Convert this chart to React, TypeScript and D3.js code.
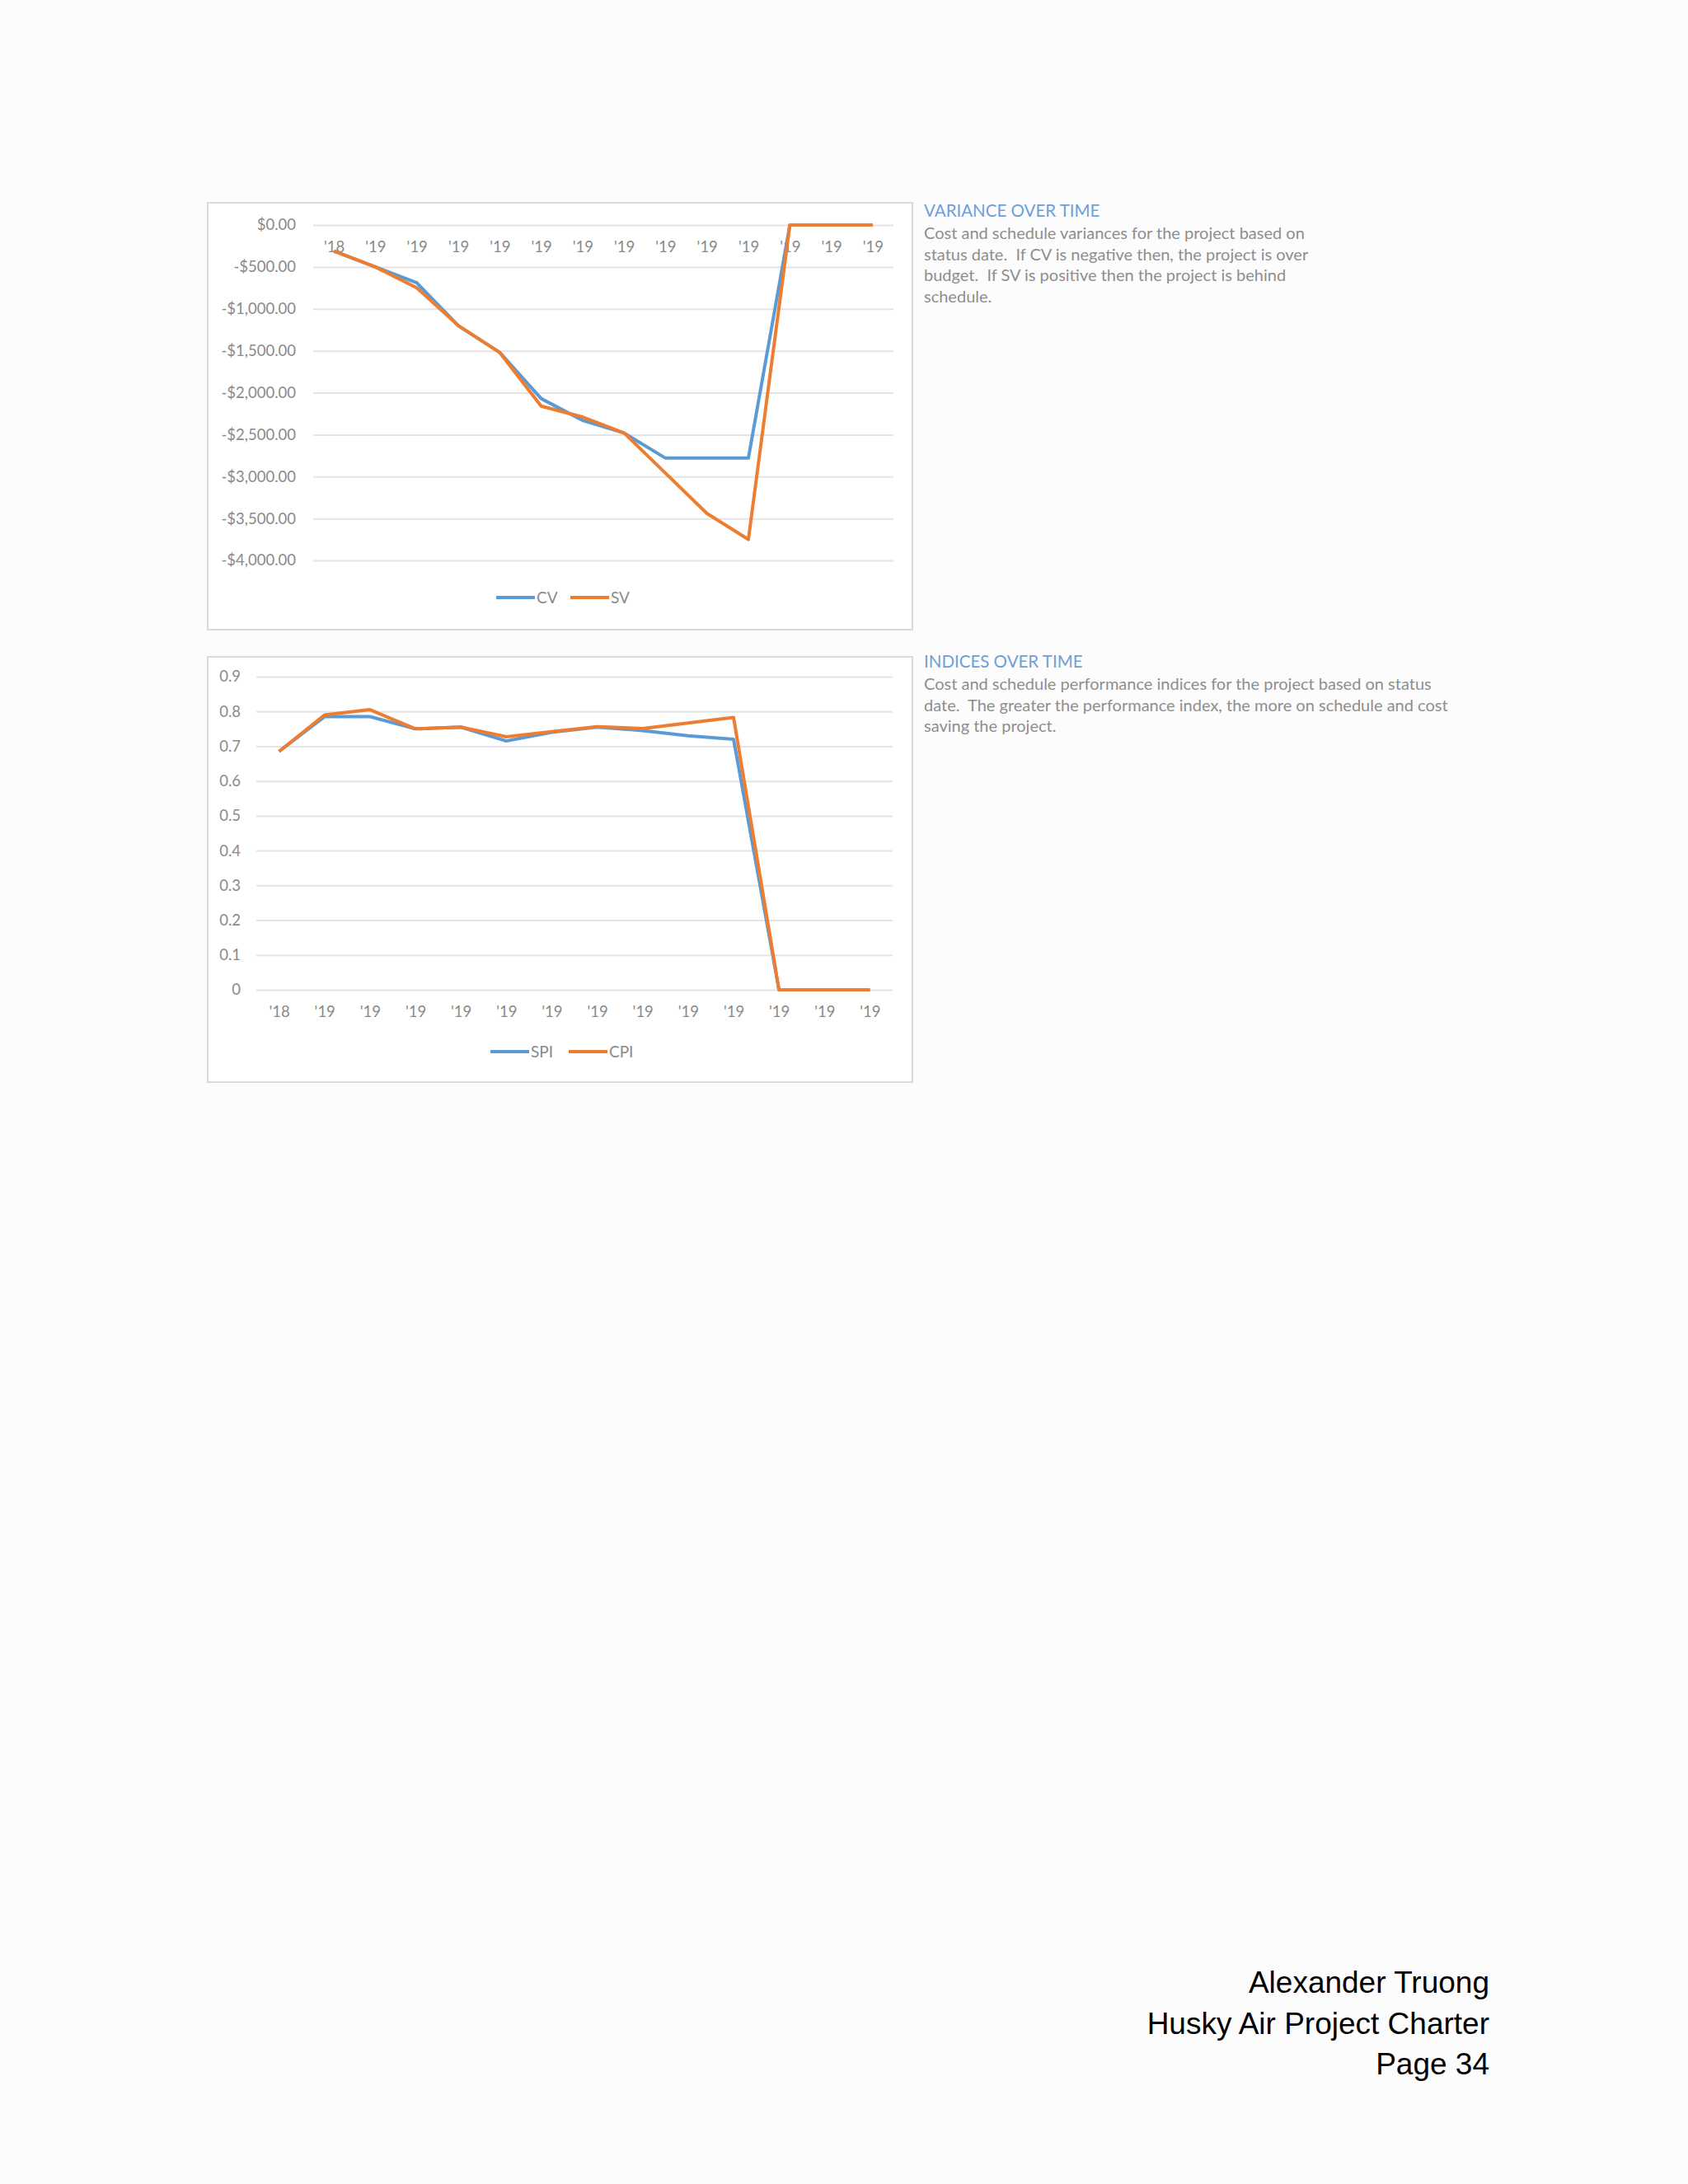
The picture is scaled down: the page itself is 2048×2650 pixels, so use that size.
import React, { useEffect, useRef } from 'react';
import * as d3 from 'd3';

// status dates on the category axis
const categories = ["'18", "'19", "'19", "'19", "'19", "'19", "'19", "'19", "'19", "'19", "'19", "'19", "'19", "'19"];

// variance over time ($)
const cvValues = [-310, -500, -690, -1200, -1520, -2070, -2330, -2480, -2780, -2780, -2780, 0, 0, 0];
const svValues = [-310, -500, -750, -1200, -1520, -2160, -2290, -2480, -2960, -3440, -3750, 0, 0, 0];
const varianceTicks = [0, -500, -1000, -1500, -2000, -2500, -3000, -3500, -4000];

// indices over time
const spiValues = [0.685, 0.785, 0.785, 0.75, 0.755, 0.715, 0.74, 0.755, 0.745, 0.73, 0.72, 0, 0, 0];
const cpiValues = [0.685, 0.79, 0.805, 0.75, 0.755, 0.727, 0.742, 0.756, 0.751, 0.767, 0.783, 0, 0, 0];
const indexTicks = [0, 0.1, 0.2, 0.3, 0.4, 0.5, 0.6, 0.7, 0.8, 0.9];

const varianceTitle = 'VARIANCE OVER TIME';
const varianceText = [
  'Cost and schedule variances for the project based on',
  'status date.  If CV is negative then, the project is over',
  'budget.  If SV is positive then the project is behind',
  'schedule.',
];
const indexTitle = 'INDICES OVER TIME';
const indexText = [
  'Cost and schedule performance indices for the project based on status',
  'date.  The greater the performance index, the more on schedule and cost',
  'saving the project.',
];
const footer = ['Alexander Truong', 'Husky Air Project Charter', 'Page 34'];

const BLUE = '#5b9bd5';
const ORANGE = '#ed7d31';
const GRID = '#e4e4e4';
const LABEL = '#8a8a8a';
const FONT = 'Lato, "Open Sans", sans-serif';

const money = d3.formatLocale({
  decimal: '.',
  thousands: ',',
  grouping: [3],
  currency: ['$', ''],
  minus: '-',
}).format('$,.2f');

function drawChart(svg, opts) {
  const { box, x0, x1, yTop, yBottom, domain, ticks, fmt, series, legendY, legend, labelGap } = opts;
  const g = svg.append('g');

  g.append('rect')
    .attr('x', box[0]).attr('y', box[1])
    .attr('width', box[2] - box[0]).attr('height', box[3] - box[1])
    .attr('fill', '#ffffff')
    .attr('stroke', '#dadada')
    .attr('stroke-width', 2);

  const x = d3.scalePoint()
    .domain(d3.range(categories.length))
    .range([x0, x1])
    .padding(0.5);

  const y = d3.scaleLinear().domain(domain).range([yBottom, yTop]);

  // gridlines + value labels
  const yAxis = g.append('g')
    .attr('transform', `translate(${x0},0)`)
    .call(d3.axisLeft(y).tickValues(ticks).tickSize(-(x1 - x0)).tickPadding(labelGap).tickFormat(fmt));
  yAxis.select('.domain').remove();
  yAxis.selectAll('line').attr('stroke', GRID).attr('stroke-width', 2);
  yAxis.selectAll('text')
    .attr('fill', LABEL)
    .style('font-family', FONT)
    .style('font-size', '18.5px');

  // category labels sit under the zero line
  const xAxis = g.append('g')
    .attr('transform', `translate(0,${y(0)})`)
    .call(d3.axisBottom(x).tickSize(0).tickPadding(20).tickFormat(i => categories[i]));
  xAxis.select('.domain').remove();
  xAxis.selectAll('text')
    .attr('fill', LABEL)
    .style('font-family', FONT)
    .style('font-size', '18.5px');

  const line = d3.line()
    .x((d, i) => x(i))
    .y(d => y(d));

  series.forEach(s => {
    g.append('path')
      .datum(s.values)
      .attr('fill', 'none')
      .attr('stroke', s.color)
      .attr('stroke-width', 4)
      .attr('stroke-linejoin', 'round')
      .attr('d', line);
  });

  // legend
  legend.forEach((l, i) => {
    const s = series[i];
    g.append('line')
      .attr('x1', l.x).attr('x2', l.x + 47)
      .attr('y1', legendY).attr('y2', legendY)
      .attr('stroke', s.color)
      .attr('stroke-width', 4);
    g.append('text')
      .attr('x', l.x + 49)
      .attr('y', legendY)
      .attr('dy', '0.35em')
      .attr('fill', LABEL)
      .style('font-family', FONT)
      .style('font-size', '19px')
      .text(s.name);
  });
}

function drawNote(svg, x, y, title, lines) {
  svg.append('text')
    .attr('x', x).attr('y', y)
    .attr('dy', '0.35em')
    .attr('fill', '#6f9fd6')
    .style('font-family', FONT)
    .style('font-size', '20.5px')
    .text(title);
  svg.selectAll(null)
    .data(lines)
    .join('text')
    .attr('x', x)
    .attr('y', (d, i) => y + 27 + i * 25.5)
    .attr('dy', '0.35em')
    .attr('fill', '#8e8e8e')
    .style('font-family', FONT)
    .style('font-size', '20px')
    .style('white-space', 'pre')
    .text(d => d);
}

export default function App() {
  const ref = useRef(null);

  useEffect(() => {
    const svg = d3.select(ref.current);
    svg.selectAll('*').remove();

    svg.append('rect')
      .attr('width', 2048).attr('height', 2650)
      .attr('fill', '#fdfcfd');

    drawChart(svg, {
      box: [252, 246, 1107, 764],
      x0: 380, x1: 1084,
      yTop: 273, yBottom: 680,
      domain: [-4000, 0],
      ticks: varianceTicks,
      fmt: money,
      labelGap: 21,
      series: [
        { name: 'CV', values: cvValues, color: BLUE },
        { name: 'SV', values: svValues, color: ORANGE },
      ],
      legendY: 725,
      legend: [{ x: 602 }, { x: 692 }],
    });

    drawChart(svg, {
      box: [252, 797, 1107, 1313],
      x0: 311, x1: 1083,
      yTop: 821, yBottom: 1201,
      domain: [0, 0.9],
      ticks: indexTicks,
      fmt: d3.format('.1~f'),
      labelGap: 19,
      series: [
        { name: 'SPI', values: spiValues, color: BLUE },
        { name: 'CPI', values: cpiValues, color: ORANGE },
      ],
      legendY: 1276,
      legend: [{ x: 595 }, { x: 690 }],
    });

    drawNote(svg, 1121, 256, varianceTitle, varianceText);
    drawNote(svg, 1121, 803, indexTitle, indexText);

    svg.selectAll('.footer')
      .data(footer)
      .join('text')
      .attr('class', 'footer')
      .attr('x', 1807)
      .attr('y', (d, i) => 2418 + i * 49.5)
      .attr('text-anchor', 'end')
      .attr('fill', '#000000')
      .style('font-family', '"Liberation Sans", Arial, sans-serif')
      .style('font-size', '37px')
      .style('white-space', 'pre')
      .text(d => d);
  }, []);

  return (
    <svg
      ref={ref}
      width={2048}
      height={2650}
      style={{ position: 'absolute', left: 0, top: 0, display: 'block' }}
    />
  );
}
